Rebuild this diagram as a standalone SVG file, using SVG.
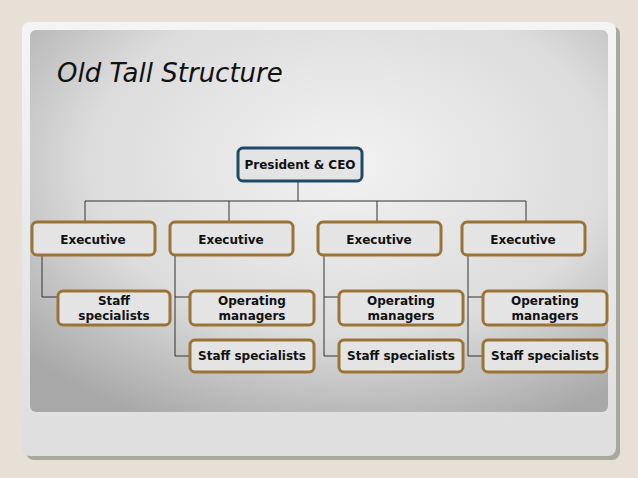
<svg xmlns="http://www.w3.org/2000/svg" width="638" height="478" viewBox="0 0 638 478">
<defs>
<radialGradient id="bg" cx="0.55" cy="0.35" r="0.75">
<stop offset="0" stop-color="#f2f2f2"/><stop offset="0.6" stop-color="#dcdcdc"/><stop offset="1" stop-color="#a8a8a8"/>
</radialGradient>
<linearGradient id="card" x1="0" y1="0" x2="0" y2="1"><stop offset="0" stop-color="#f4f4f4"/><stop offset="1" stop-color="#dedede"/></linearGradient>
</defs>
<style>
.n rect{fill:#e4e4e4;stroke:#9a7434;stroke-width:3}
.n text,.c text{font-family:"DejaVu Sans",sans-serif;font-weight:bold;font-size:12px;fill:#111;text-anchor:middle}
#conn path{fill:none;stroke:#333;stroke-width:1}
</style>
<rect width="638" height="478" fill="#e6e0d6"/>
<rect x="26" y="26" width="594" height="434" rx="8" fill="#a9a89e"/>
<rect x="22" y="22" width="594" height="434" rx="8" fill="url(#card)"/>
<rect x="30" y="30" width="578" height="382" rx="6" fill="url(#bg)"/>
<text x="57" y="82" font-family="'DejaVu Sans',sans-serif" font-style="italic" font-size="26" fill="#111">Old Tall Structure</text>
<g id="conn">
<path d="M298 181V201M85 201H526M85 201V222M229 201V222M377 201V222M526 201V222"/>
<path d="M42 255V297H58M175 255V356H190M175 297H190M324 255V356H339M324 297H339M468 255V356H483M468 297H483"/>
</g>
<g id="ceo" class="n c"><rect x="238" y="148" width="124" height="33" rx="5" style="stroke:#1e4b66"/><text x="300" y="169">President &amp; CEO</text></g>
<g id="ex1" class="n"><rect x="32" y="222" width="123" height="33" rx="5"/><text x="93" y="244">Executive</text></g>
<g id="ex2" class="n"><rect x="170" y="222" width="123" height="33" rx="5"/><text x="231" y="244">Executive</text></g>
<g id="ex3" class="n"><rect x="318" y="222" width="123" height="33" rx="5"/><text x="379" y="244">Executive</text></g>
<g id="ex4" class="n"><rect x="462" y="222" width="123" height="33" rx="5"/><text x="523" y="244">Executive</text></g>
<g id="ss1" class="n"><rect x="58" y="291" width="112" height="34" rx="5"/><text x="114" y="305">Staff</text><text x="114" y="320">specialists</text></g>
<g id="om2" class="n"><rect x="190" y="291" width="124" height="34" rx="5"/><text x="252" y="305">Operating</text><text x="252" y="320">managers</text></g>
<g id="om3" class="n"><rect x="339" y="291" width="124" height="34" rx="5"/><text x="401" y="305">Operating</text><text x="401" y="320">managers</text></g>
<g id="om4" class="n"><rect x="483" y="291" width="124" height="34" rx="5"/><text x="545" y="305">Operating</text><text x="545" y="320">managers</text></g>
<g id="ss2" class="n"><rect x="190" y="340" width="124" height="32" rx="5"/><text x="252" y="360">Staff specialists</text></g>
<g id="ss3" class="n"><rect x="339" y="340" width="124" height="32" rx="5"/><text x="401" y="360">Staff specialists</text></g>
<g id="ss4" class="n"><rect x="483" y="340" width="124" height="32" rx="5"/><text x="545" y="360">Staff specialists</text></g>
</svg>
